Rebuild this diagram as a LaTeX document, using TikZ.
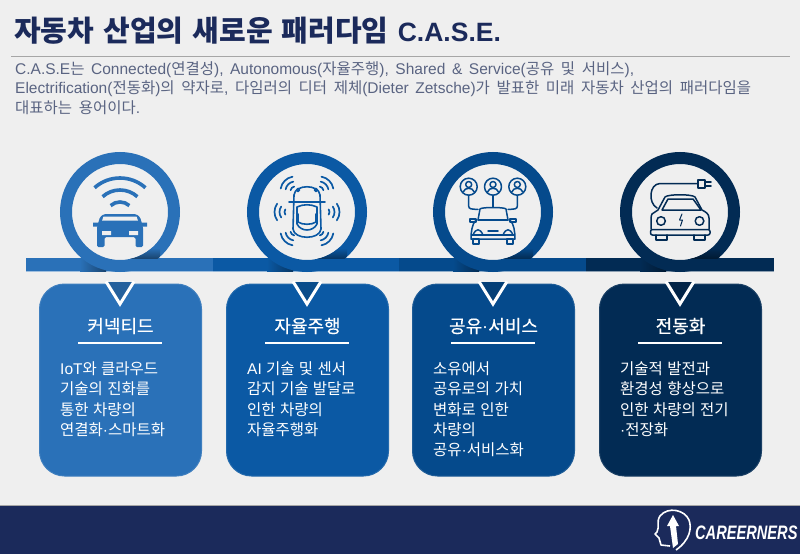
\documentclass[tikz,border=0pt]{standalone}
\usepackage{fontspec}
\setmainfont{Liberation Sans}
\newfontfamily\krfont{Noto Sans CJK KR}
\newfontfamily\krhead[FakeBold=0.4]{Noto Sans CJK KR}
\let\krswitch\krfont
% hangul goes to the korean font by itself
\newXeTeXintercharclass\krclass
\count255="AC00
\loop\XeTeXcharclass\count255=\krclass\ifnum\count255<"D7A3\advance\count255 by 1\repeat
\XeTeXinterchartokenstate=1
\XeTeXinterchartoks 0 \krclass={\begingroup\krswitch}
\XeTeXinterchartoks 4095 \krclass={\begingroup\krswitch}
\XeTeXinterchartoks \krclass 0={\endgroup}
\XeTeXinterchartoks \krclass 4095={\endgroup}
\definecolor{pagegray}{HTML}{EFEFEF}
\definecolor{navy}{HTML}{1B2A5B}
\definecolor{introgray}{HTML}{5A6482}
\definecolor{caseA}{HTML}{2A71B8}
\definecolor{caseB}{HTML}{0B59A4}
\definecolor{caseC}{HTML}{054A8C}
\definecolor{caseD}{HTML}{022B54}
\newcommand{\widegap}{\spaceskip=6.6pt\relax}
\tikzset{
  ringnode/.style={circle,draw=#1,line width=12pt,fill=pagegray,minimum size=108pt,inner sep=0pt},
  cardbox/.style={draw=#1!90!white,fill=#1,line width=1pt,rounded corners=25pt,minimum width=162pt,minimum height=192pt,inner sep=0pt},
  headtext/.style={text=white,font=\let\krswitch\krhead\fontsize{18}{22}\selectfont},
  cardtext/.style={text=white,anchor=north west,align=left,inner sep=0pt,font=\fontsize{15.5}{20.3}\selectfont},
  iconline/.style={draw=#1,line width=1.5pt,line cap=round,line join=round}
}
\begin{document}
\begin{tikzpicture}[x=1pt,y=-1pt]
  \useasboundingbox (0,0) rectangle (800,554);
  \fill[pagegray] (0,0) rectangle (800,554);
  \fill[navy] (0,505) rectangle (800,554);
  \draw[gray!70,line width=.8pt] (0,505) -- (800,505);
  % title and intro
  \node (title) [anchor=base west,inner sep=0pt,text=navy,font=\fontsize{29}{34}\selectfont\bfseries] at (14,41) {\spaceskip=9.2pt\relax 자동차 산업의 새로운 패러다임 {\fontsize{26.5}{34}\selectfont C.A.S.E.}};
  \draw[gray!70,line width=.8pt] (11,56.5) -- (790,56.5);
  \node (intro) [anchor=north west,inner sep=0pt,align=left,text=introgray,font=\fontsize{15.5}{19.6}\selectfont] at (15,61) {\widegap C.A.S.E는 Connected(연결성), Autonomous(자율주행), Shared \& Service(공유 및 서비스),\\\widegap Electrification(전동화)의 약자로, 다임러의 디터 제체(Dieter Zetsche)가 발표한 미래 자동차 산업의 패러다임을\\\widegap 대표하는 용어이다.};
  % bar, rings and cards
  \foreach \nm/\cx/\colr/\hd/\bd in {
      1/120/caseA/커넥티드/{IoT와 클라우드\\기술의 진화를\\통한 차량의\\연결화·스마트화},
      2/307/caseB/자율주행/{AI 기술 및 센서\\감지 기술 발달로\\인한 차량의\\자율주행화},
      3/493/caseC/공유·서비스/{소유에서\\공유로의 가치\\변화로 인한\\차량의\\공유·서비스화},
      4/680/caseD/전동화/{기술적 발전과\\환경성 향상으로\\인한 차량의 전기\\·전장화}}{
    \fill[\colr] ({\cx-94},258) rectangle ({\cx+94},271);
    \draw[white!55!\colr,line width=.5pt] ({\cx-94},271.2) -- ({\cx+94},271.2);
    \shade[left color=\colr,right color=\colr!60!black] ({\cx-40},258) rectangle ({\cx-14},271.5);
    \node (ring\nm) [ringnode=\colr] at (\cx,212) {};
    \begin{scope}[even odd rule]
      \clip (\cx,212) circle[radius=60] (\cx,212) circle[radius=48];
      \shade[top color=\colr,bottom color=\colr!60!black] ({\cx+6},248) rectangle ({\cx+40},258.5);
    \end{scope}
    \node (card\nm) [cardbox=\colr] at ({\cx+.5},380) {};
    \fill[\colr!85!black] ({\cx-14},282) -- (\cx,305) -- ({\cx+14},282) -- cycle;
    \draw[white,line width=3pt] ({\cx-14},281.5) -- (\cx,304) -- ({\cx+14},281.5);
    \node (head\nm) [headtext] at ({\cx+.5},326) {\hd};
    \draw[white,line width=2.4pt] ({\cx-42},343) -- ({\cx+42},343);
    \node (text\nm) [cardtext] at ({\cx-60},361.5) {\bd};
  }
  % connected car
  \begin{scope}[shift={(120,212)},yscale=-1]
    \foreach \r in {38,26,14}
      \draw[caseA,line width=3.6pt] (48:\r) ++(0,-4) arc[start angle=48,end angle=132,radius=\r];
    \fill[caseA,rounded corners=1.5pt] (-23,-35) -- (-23,-15) -- (-20,-5) -- (-16,-2) -- (16,-2) -- (20,-5) -- (23,-15) -- (23,-35) -- (15.5,-35) -- (15.5,-25) -- (-15.5,-25) -- (-15.5,-35) -- cycle;
    \fill[pagegray] (-18,-8.7) -- (-16.5,-4.5) -- (16.5,-4.5) -- (18,-8.7) -- cycle;
    \fill[caseA] (-27,-14.7) rectangle (-21,-10.7) (21,-14.7) rectangle (27,-10.7);
    \fill[pagegray] (-18,-23) rectangle (-9,-19) (9,-23) rectangle (18,-19);
  \end{scope}
  % car with sensors
  \begin{scope}[shift={(307,212)},yscale=-1]
    \draw[iconline=caseB,line width=1.6pt] (-13,17) .. controls (-12,28) and (12,28) .. (13,17) -- (14,-17) .. controls (13,-28) and (-13,-28) .. (-14,-17) -- cycle;
    \draw[iconline=caseB,line width=1.6pt] (-18,10) -- (18,10);
    \draw[iconline=caseB,line width=1.6pt] (-9,-2) -- (-9,-10) .. controls (-5,-13) and (5,-13) .. (9,-10) -- (9,-2);
    \draw[iconline=caseB,line width=1.6pt] (-10,5) .. controls (-4,8) and (4,8) .. (10,5) -- (10,-12) .. controls (6,-20) and (-6,-20) .. (-10,-12) -- cycle;
    \draw[iconline=caseB] (-9,22) circle[radius=1.5] (9,22) circle[radius=1.5];
    \foreach \ang/\dx/\dy in {180/-18/0,0/18/0,135/-12/21,45/12/21,225/-12/-19,315/12/-19}
      \foreach \r in {4.5,9.5,14.5}
        \draw[iconline=caseB,line width=1.7pt] (\dx,\dy) ++({\ang-35}:\r) arc[start angle={\ang-35},end angle={\ang+35},radius=\r];
  \end{scope}
  % shared car
  \begin{scope}[shift={(493,212)},yscale=-1]
    \foreach \px in {-24.3,0,24.3}{
      \draw[iconline=caseC] (\px,25.3) circle[radius=8.5] (\px,27.5) circle[radius=3];
      \draw[iconline=caseC] ({\px-5.5},20) .. controls ({\px-4},25) and ({\px+4},25) .. ({\px+5.5},20);
    }
    \draw[iconline=caseC] (0,16.8) -- (0,5);
    \draw[iconline=caseC] (-24.3,16.8) -- (-24.3,6) .. controls (-24.3,3) and (-22,2.7) .. (-15,2.7);
    \draw[iconline=caseC] (24.3,16.8) -- (24.3,6) .. controls (24.3,3) and (22,2.7) .. (15,2.7);
    \draw[iconline=caseC] (-15,-8) -- (-13,3) .. controls (-12,5) and (12,5) .. (13,3) -- (15,-8);
    \draw[iconline=caseC] (-15,-8) -- (15,-8);
    \draw[iconline=caseC] (-17,-8) .. controls (-21,-12) and (-22,-20) .. (-22,-27) -- (22,-27) .. controls (22,-20) and (21,-12) .. (17,-8);
    \draw[iconline=caseC] (-23,-7) rectangle (-17,-10) (17,-7) rectangle (23,-10);
    \draw[iconline=caseC] (-20,-23) .. controls (-17,-16) and (-13,-16) .. (-10,-23) (20,-23) .. controls (17,-16) and (13,-16) .. (10,-23);
    \draw[iconline=caseC] (-5,-19) -- (5,-19) (-21,-23) -- (21,-23);
    \draw[iconline=caseC] (-20,-27) rectangle (-14,-32) (14,-27) rectangle (20,-32);
  \end{scope}
  % electric car
  \begin{scope}[shift={(680,212)},yscale=-1]
    \draw[iconline=caseD] (-23,4) .. controls (-32,9) and (-31,28) .. (-20,28.5) -- (17,28.5);
    \draw[iconline=caseD] (18,24) rectangle (25,32);
    \draw[iconline=caseD] (25,30) -- (31,30) (25,26) -- (31,26);
    \draw[iconline=caseD] (-28,-2) .. controls (-28,-2) and (-25,0) .. (-22,2) -- (-15,15) .. controls (-12,18) and (12,18) .. (15,15) -- (22,2) .. controls (26,0) and (29,-2) .. (29,-6) -- (29,-17);
    \draw[iconline=caseD] (-29,-17) -- (-29,-6) .. controls (-29,-4) and (-28,-2) .. (-28,-2);
    \draw[iconline=caseD] (-18,2) -- (-12,13) -- (13,13) -- (21,2) -- cycle;
    \draw[iconline=caseD,rounded corners=2pt] (-29.5,-17.5) rectangle (30,-23);
    \draw[iconline=caseD] (-24,-23) -- (-24,-28) -- (-13,-28) -- (-13,-23) (14,-23) -- (14,-28) -- (25,-28) -- (25,-23);
    \draw[iconline=caseD] (-19,-9) circle[radius=4.3] (19.5,-9) circle[radius=4.3];
    \draw[iconline=caseD,line width=1pt] (2,-2) -- (-.5,-8) -- (2.5,-8) -- (.5,-14);
  \end{scope}
  % logo
  \draw[white,line width=1.6pt,line join=round] (676,550) .. controls (690,540) and (692,528) .. (689,520) .. controls (685,510) and (668,506) .. (660,516) .. controls (656,522) and (660,526) .. (657,532) -- (655,534) -- (659,538) -- (661,545) -- (670,546);
  \fill[white] (673,548) -- (670,526) -- (667,526) -- (673,515) -- (679,526) -- (676,526) -- (678,544) -- cycle;
  \node (logo) [anchor=west,inner sep=0pt,text=white,xscale=.75,transform shape,font=\fontsize{19.5}{20}\selectfont\bfseries\itshape] at (695,533) {CAREERNERS};
\end{tikzpicture}
\end{document}
